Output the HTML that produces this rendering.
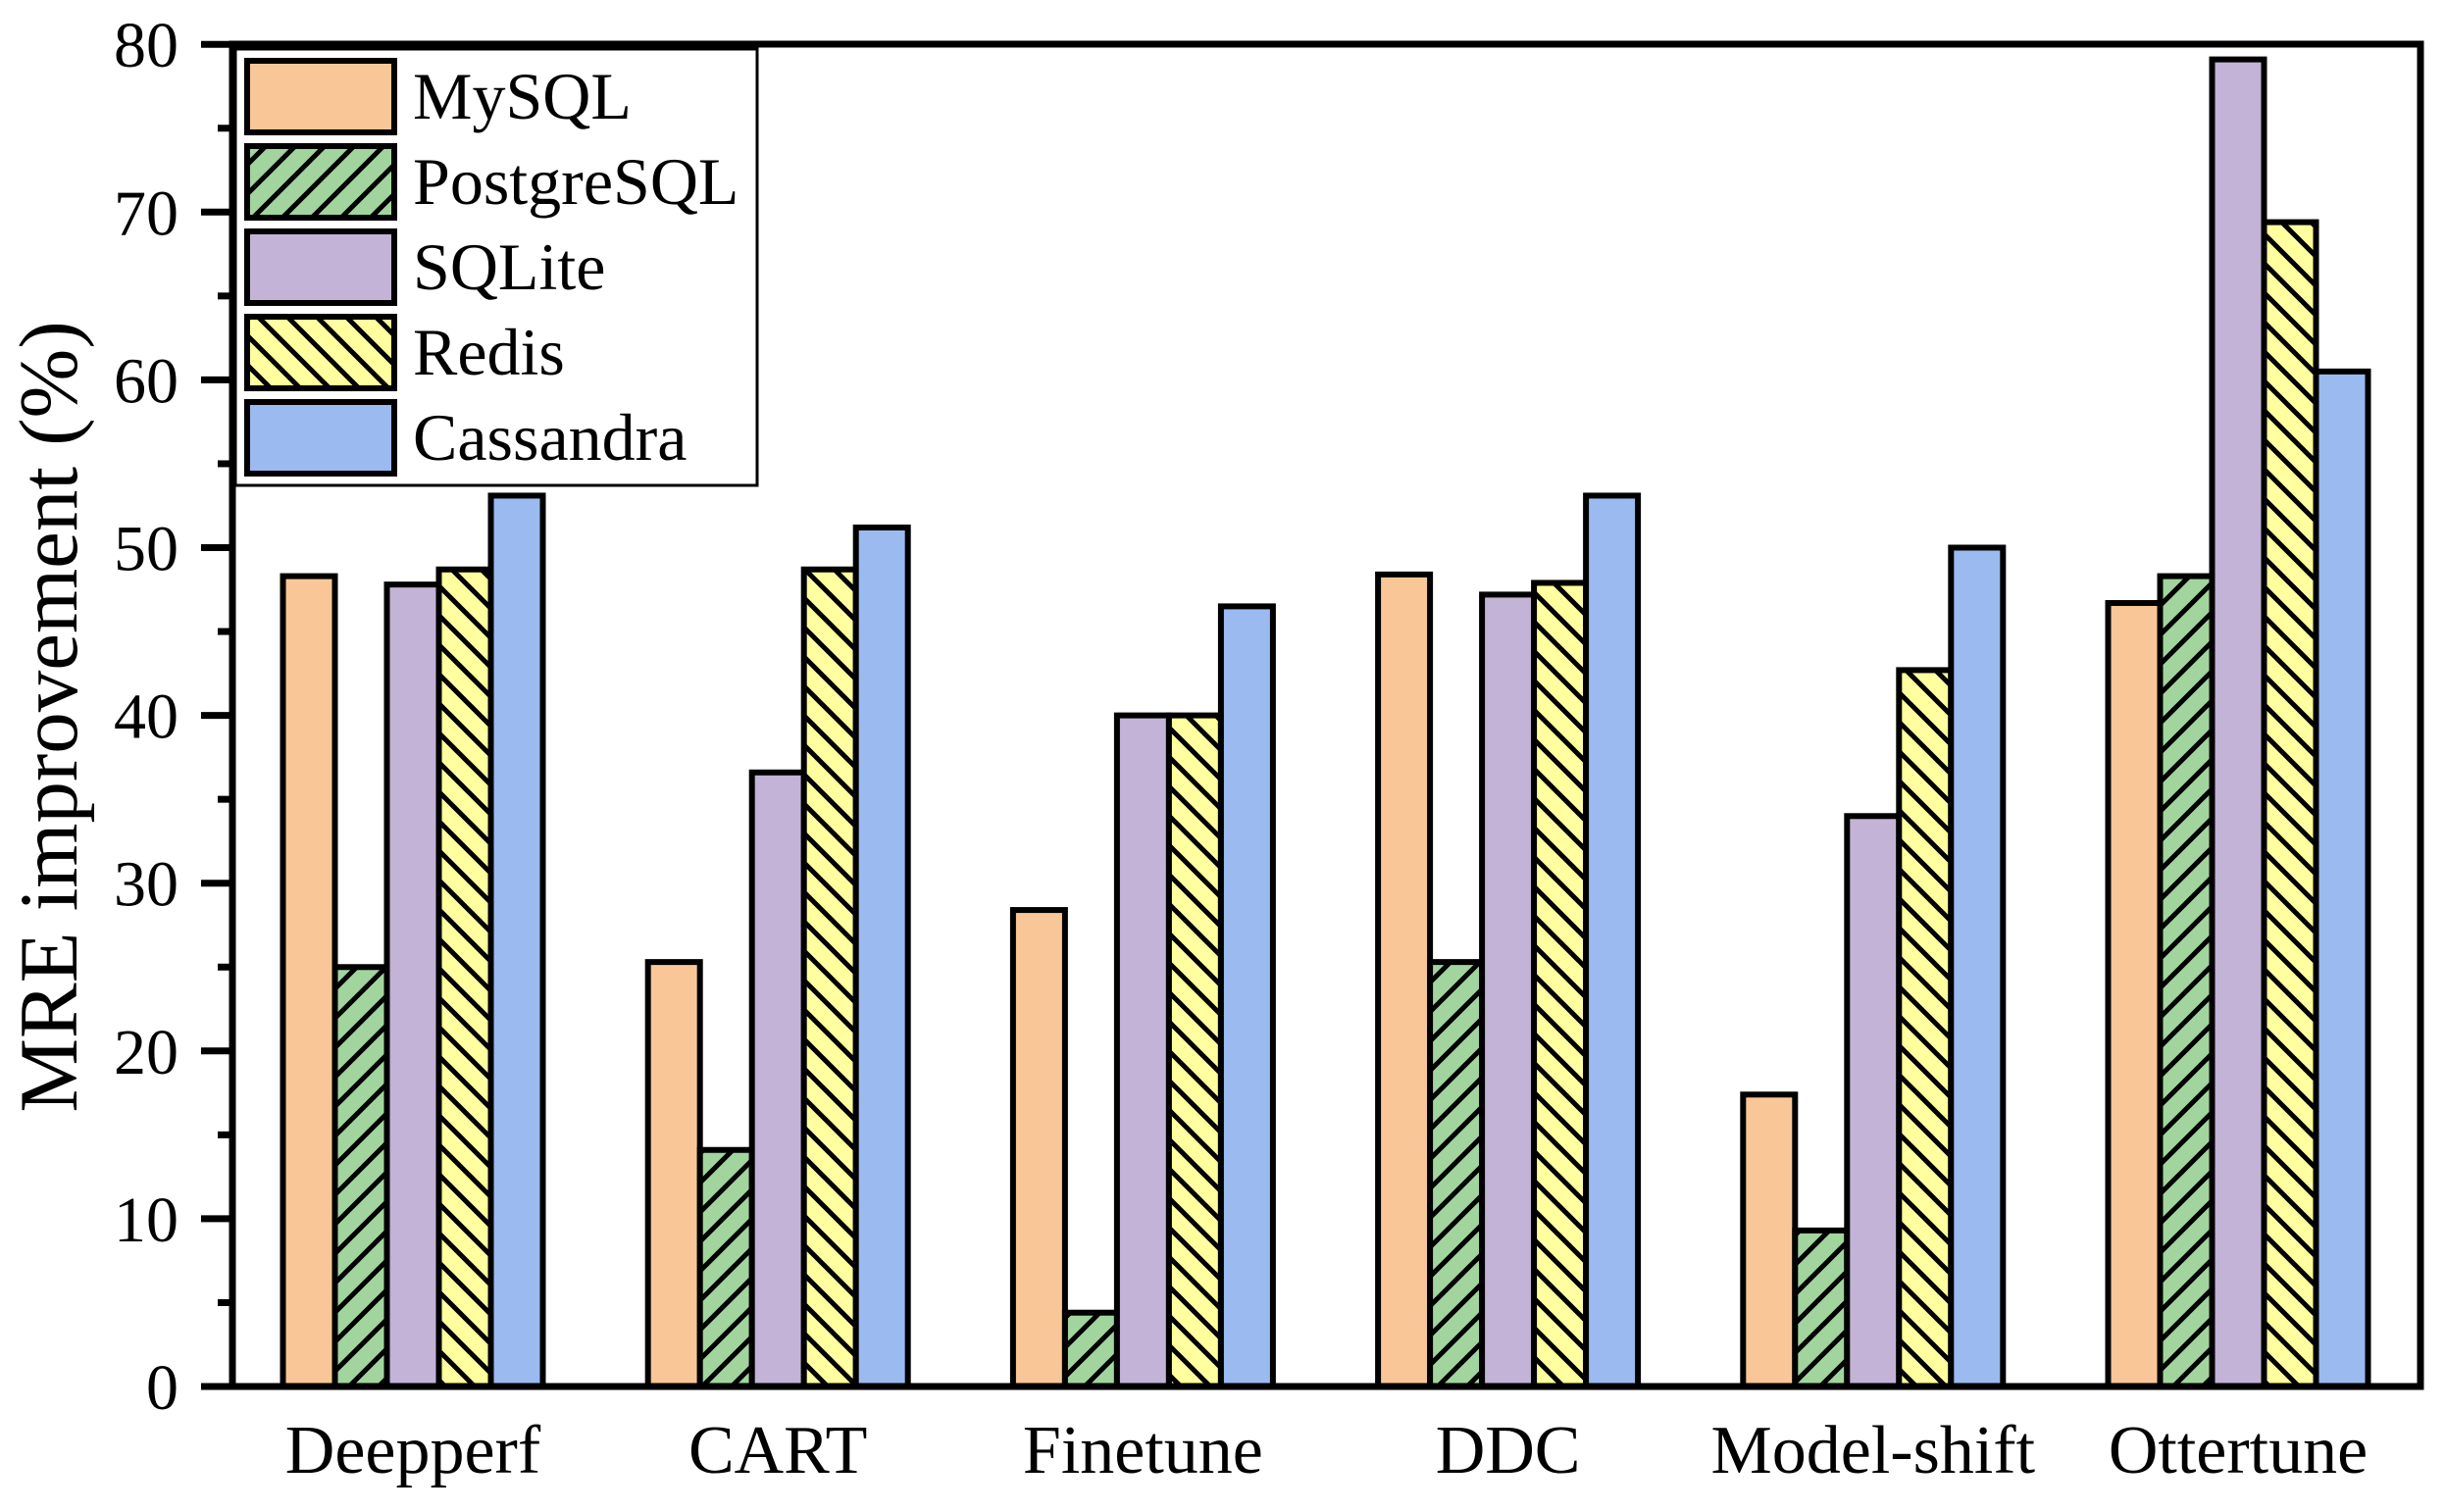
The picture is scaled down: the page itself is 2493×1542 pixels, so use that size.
<!DOCTYPE html>
<html><head><meta charset="utf-8"><style>html,body{margin:0;padding:0;background:#fff}svg{display:block}</style></head>
<body>
<svg xmlns="http://www.w3.org/2000/svg" width="2493" height="1542" viewBox="0 0 2493 1542" style="font-family:'Liberation Serif',serif">
<defs>
<pattern id="fw" patternUnits="userSpaceOnUse" width="30" height="30">
<rect width="30" height="30" fill="#a2d59e"/>
<path d="M-8,8 L8,-8 M0,30 L30,0 M22,38 L38,22" stroke="#000" stroke-width="5"/>
</pattern>
<pattern id="bw" patternUnits="userSpaceOnUse" width="30" height="30">
<rect width="30" height="30" fill="#ffff9f"/>
<path d="M-8,22 L8,38 M0,0 L30,30 M22,-8 L38,8" stroke="#000" stroke-width="5"/>
</pattern>
</defs>
<g id="bars" stroke="#000" stroke-width="6"></g>
<rect x="237" y="45" width="2231" height="1369" fill="none" stroke="#000" stroke-width="7"/>
<g stroke="#000" stroke-width="7" id="ticks"></g>
<g font-size="66" text-anchor="end" id="ylab"></g>
<g font-size="70" text-anchor="middle" id="xlab"></g>
<text x="0" y="0" font-size="85" text-anchor="middle" transform="translate(78,731) rotate(-90)">MRE improvement (%)</text>
<rect x="240" y="50" width="532" height="445" fill="#fff" stroke="#000" stroke-width="3"/>
<g stroke="#000" stroke-width="6">
<rect x="252" y="62" width="150" height="73" fill="#f9c797"/>
<rect x="252" y="149" width="150" height="73" fill="url(#fw)"/>
<rect x="252" y="236" width="150" height="73" fill="#c3b3d6"/>
<rect x="252" y="323" width="150" height="73" fill="url(#bw)"/>
<rect x="252" y="410" width="150" height="73" fill="#9bbaf0"/>
</g>
<g font-size="68">
<text x="421" y="121">MySQL</text>
<text x="421" y="208">PostgreSQL</text>
<text x="421" y="295">SQLite</text>
<text x="421" y="382">Redis</text>
<text x="421" y="469">Cassandra</text>
</g>
<script>
var ns="http://www.w3.org/2000/svg";
var data=[[48.3,25,47.8,48.7,53.1],[25.3,14.1,36.6,48.7,51.2],[28.4,4.4,40,40,46.5],[48.4,25.3,47.2,47.9,53.1],[17.4,9.3,34,42.7,50],[46.7,48.3,79.1,69.4,60.5]];
var fills=["#f9c797","url(#fw)","#c3b3d6","url(#bw)","#9bbaf0"];
var names=["Deepperf","CART","Finetune","DDC","Model-shift","Ottertune"];
var g=document.getElementById("bars");
function Y(v){return 1414-v*17.11;}
for(var i=0;i<6;i++){var c=421+372.2*i;
 for(var k=0;k<5;k++){var r=document.createElementNS(ns,"rect");var v=data[i][k];
  r.setAttribute("x",c-132.5+k*53);r.setAttribute("y",Y(v));r.setAttribute("width",53);r.setAttribute("height",v*17.11);r.setAttribute("fill",fills[k]);g.appendChild(r);}
 var t=document.createElementNS(ns,"text");t.setAttribute("x",c);t.setAttribute("y",1502);t.textContent=names[i];document.getElementById("xlab").appendChild(t);}
var tk=document.getElementById("ticks"),yl=document.getElementById("ylab");
for(var v=0;v<=80;v+=5){var l=document.createElementNS(ns,"line");var maj=v%10==0;
 l.setAttribute("x1",maj?205:222);l.setAttribute("x2",237);l.setAttribute("y1",Y(v));l.setAttribute("y2",Y(v));tk.appendChild(l);
 if(maj){var t=document.createElementNS(ns,"text");t.setAttribute("x",182);t.setAttribute("y",Y(v)+23);t.textContent=v;yl.appendChild(t);}}
</script>
</svg>
</body></html>
